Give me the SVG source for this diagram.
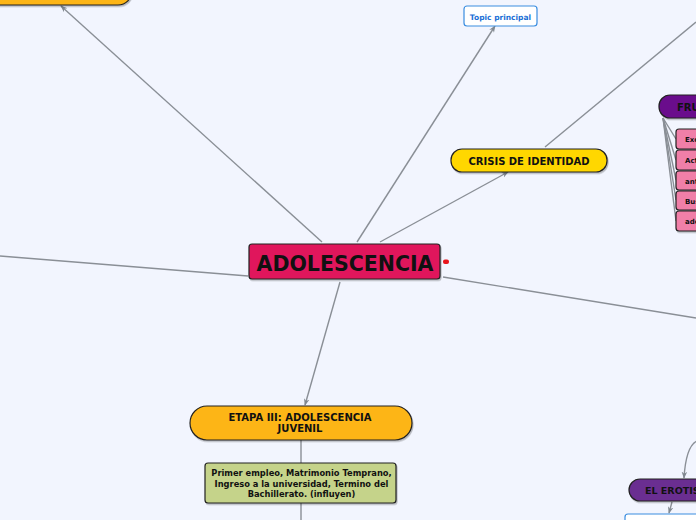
<svg xmlns="http://www.w3.org/2000/svg" width="696" height="520" viewBox="0 0 696 520">
<defs>
<marker id="arr" viewBox="0 0 10 10" refX="9" refY="5" markerWidth="7" markerHeight="7" orient="auto-start-reverse" markerUnits="userSpaceOnUse">
<path d="M0,1 L10,5 L0,9 L3,5 Z" fill="#808890"/>
</marker>
<filter id="sh" x="-10%" y="-10%" width="120%" height="140%">
<feDropShadow dx="1" dy="1.5" stdDeviation="0.6" flood-color="#000" flood-opacity="0.25"/>
</filter>
</defs>
<style>
text{font-family:"DejaVu Sans","Liberation Sans",sans-serif;font-weight:bold;fill:#111}
.c{stroke:#8a8f96;stroke-width:1.4;fill:none}
.a{marker-end:url(#arr)}
.n{stroke:#222;stroke-width:1.2;filter:url(#sh)}
.org{fill:#fdb515}
.pink{fill:#f07fa8}
.pur{fill:#6a0a8c}
</style>
<rect width="696" height="520" fill="#f2f5fe"/>
<g id="connectors">
<line class="c a" x1="322" y1="242" x2="61" y2="6"/>
<line class="c a" x1="357" y1="242" x2="495" y2="26"/>
<line class="c a" x1="380" y1="242" x2="508" y2="172"/>
<line class="c" x1="545" y1="147" x2="696" y2="22"/>
<line class="c" x1="443" y1="277" x2="696" y2="318"/>
<line class="c" x1="0" y1="256" x2="248" y2="276"/>
<line class="c a" x1="340" y1="282" x2="305" y2="405"/>
<line class="c" x1="301" y1="440" x2="301" y2="463"/>
<line class="c" x1="301" y1="503" x2="301" y2="520"/>
<line class="c" x1="663" y1="118" x2="676" y2="139"/>
<line class="c" x1="663" y1="118" x2="676" y2="160"/>
<line class="c" x1="663" y1="118" x2="676" y2="180"/>
<line class="c" x1="663" y1="118" x2="676" y2="200"/>
<line class="c" x1="663" y1="118" x2="676" y2="221"/>
<path class="c a" d="M697,441 Q686,446 684,478"/>
<line class="c a" x1="672" y1="502" x2="669" y2="513"/>
</g>
<g id="n-top-left">
<rect class="n org" x="-40" y="-30" width="172" height="35" rx="14"/>
</g>
<g id="n-topic">
<rect x="464" y="6" width="73" height="20" rx="3" fill="#fff" stroke="#3a8de0" stroke-width="1.2"/>
<text x="500.5" y="19.5" font-size="7.5" text-anchor="middle" style="fill:#1a6fd6">Topic principal</text>
</g>
<g id="n-crisis">
<rect class="n" x="451" y="149" width="156" height="23" rx="11" fill="#ffd700"/>
<text x="529" y="164.5" font-size="10" text-anchor="middle">CRISIS DE IDENTIDAD</text>
</g>
<g id="n-fru">
<rect class="n pur" x="659" y="95" width="60" height="23" rx="11"/>
<text x="677" y="111" font-size="10">FRUSTRACIÓN</text>
</g>
<g id="n-p1"><rect class="n pink" x="676" y="129" width="40" height="20" rx="3"/><text x="685" y="142" font-size="7">Exc</text></g>
<g id="n-p2"><rect class="n pink" x="676" y="150" width="40" height="20" rx="3"/><text x="685" y="163" font-size="7">Act</text></g>
<g id="n-p3"><rect class="n pink" x="676" y="171" width="40" height="19" rx="3"/><text x="685" y="183.5" font-size="7">ant</text></g>
<g id="n-p4"><rect class="n pink" x="676" y="191" width="40" height="19" rx="3"/><text x="685" y="203.5" font-size="7">Bus</text></g>
<g id="n-p5"><rect class="n pink" x="676" y="211" width="40" height="20" rx="3"/><text x="685" y="224" font-size="7">ado</text></g>
<g id="n-adolescencia">
<rect class="n" x="249" y="244" width="191" height="35" rx="3" fill="#e0195b"/>
<text x="345" y="270.5" font-size="20.5" text-anchor="middle">ADOLESCENCIA</text>
<rect x="443" y="259.5" width="6" height="4.5" rx="2" fill="#e8141c"/>
</g>
<g id="n-etapa3">
<rect class="n org" x="190" y="406" width="222" height="34" rx="17"/>
<text x="300" y="420.5" font-size="10" text-anchor="middle">ETAPA III: ADOLESCENCIA</text>
<text x="300" y="432" font-size="10" text-anchor="middle">JUVENIL</text>
</g>
<g id="n-primer">
<rect class="n" x="205" y="463" width="191" height="40" rx="3" fill="#c5d38a"/>
<text x="301.5" y="476" font-size="8.3" text-anchor="middle">Primer empleo, Matrimonio Temprano,</text>
<text x="301.5" y="486.5" font-size="8.3" text-anchor="middle">Ingreso a la universidad, Termino del</text>
<text x="301.5" y="497" font-size="8.3" text-anchor="middle">Bachillerato. (influyen)</text>
</g>
<g id="n-erotismo">
<rect class="n" x="629" y="479" width="100" height="22" rx="11" fill="#6a2d91"/>
<text x="645" y="494" font-size="9.5">EL EROTISMO</text>
</g>
<g id="n-bottom-blue">
<rect x="625" y="514" width="90" height="20" rx="3" fill="#fff" stroke="#3a8de0" stroke-width="1.2"/>
</g>
</svg>
